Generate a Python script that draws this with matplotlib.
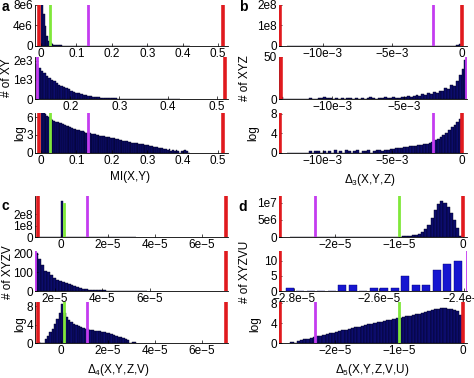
import numpy as np
import matplotlib.pyplot as plt

plt.rcParams['font.family'] = ['Liberation Sans', 'DejaVu Sans']
plt.rcParams['mathtext.fontset'] = 'custom'
plt.rcParams['mathtext.rm'] = 'Liberation Sans'
plt.rcParams['mathtext.it'] = 'Liberation Sans:italic'
plt.rcParams['axes.unicode_minus'] = True

NAVY = '#0c0c6c'
EDGE = '#00001c'
BLUE = '#1616d0'
RED = '#e01a1e'
PURPLE = '#c43cf0'
GREEN = '#80e83a'

# ---- panel a : MI(X,Y) ----
a_start, a_w = 0.0, 0.005
a_log = [7.0, 6.8, 6.6, 6.3, 6.0, 5.8, 5.6, 5.45, 5.3, 5.2, 5.1, 5.0, 4.85, 4.75,
         4.6, 4.5, 4.35, 4.2, 4.1, 4.0, 3.9, 3.8, 3.7, 3.6, 3.5, 3.4, 3.35, 3.3,
         3.2, 3.15, 3.1, 3.0, 2.95, 2.9, 2.85, 2.8, 2.7, 2.65, 2.6, 2.55, 2.45,
         2.4, 2.35, 2.25, 2.2, 2.1, 2.05, 2.0, 1.9, 1.85, 1.8, 1.7, 1.65, 1.6,
         1.55, 1.5, 1.45, 1.4, 1.3, 1.25, 1.2, 1.1, 1.05, 1.0, 0.95, 0.9, 0.8,
         0.75, 0.7, 0.6, 0.65, 0.5, 0.55, 0.3, 0.45, 0.3, 0.45, 0.3, 0.0, 0.3, 0.3,
         0.45, 0.3, 0.0]
a_mid_start, a_mid_w = 0.13, 0.005
a_mid = [1850, 1650, 1480, 1350, 1230, 1120, 1020, 930, 840, 760, 690, 620, 560,
         500, 440, 390, 340, 300, 260, 225, 195, 170, 145, 125, 105, 90, 78, 66,
         56, 48, 40, 34, 29, 24, 20, 17, 14, 12, 10, 8, 7, 6, 5, 3, 4, 3, 2, 3, 2,
         2, 1, 2, 1, 1, 0, 2, 1, 0, 1]
a_red = [-0.005, 0.515]
a_green = 0.025
a_purple = 0.133

# ---- panel b : Delta3 ----
b_start, b_w = -0.0126, 0.0002
b_log = [0, 0, 0, 0, 0, 0, 0, 0, 0.3, 0, 0.3, 0.3, 0, 0.3, 0, 0.3, 0, 0.48, 0,
         0.3, 0, 0.48, 0.3, 0, 0.3, 0.48, 0, 0.3, 0.3, 0.48, 0, 0.3, 0.6, 0.48,
         0.3, 0.6, 0.48, 0.7, 0.78, 0.85, 0.95, 1.0, 1.1, 1.2, 1.25, 1.3, 1.4,
         1.5, 1.6, 1.7, 1.8, 2.0, 2.2, 2.5, 2.8, 3.2, 3.6, 4.1, 4.6, 5.2, 5.8,
         6.4, 6.9]
b_mid_start, b_mid_w = -0.0136, 0.0002
b_mid = [2, 0, 0, 0, 0, 0, 0, 0, 0, 0, 1, 0, 0, 1, 1, 2, 1, 1, 0, 1, 0, 1, 0, 1,
         1, 0, 1, 0, 1, 0, 1, 2, 1, 0, 1, 1, 2, 1, 1, 2, 1, 1, 2, 2, 3, 2, 3, 5,
         4, 6, 5, 7, 6, 8, 7, 10, 9, 13, 12, 17, 15, 22, 28, 36, 47]
b_red = [-0.01307, 0.0]
b_purple = -0.00207
b_mid_lines = [(-0.01355, RED), (-0.00068, PURPLE)]

# ---- panel c : Delta4 ----
c_start, c_w = -1.0e-5, 1.0e-6
c_log = [0.3, 0, 0, 0.9, 1.5, 2.3, 3.1, 4.1, 5.2, 6.6, 8.5, 6.5, 5.6, 5.0, 4.5,
         4.1, 3.8, 3.6, 3.4, 3.2, 3.1, 3.0, 2.9, 2.8, 2.7, 2.6, 2.5, 2.4, 2.3,
         2.2, 2.1, 1.95, 1.8, 1.6, 1.4, 1.2, 1.0, 0.8, 0.6, 0, 0.3, 0.3]
c_mid_start, c_mid_w = 1.15e-5, 1.25e-6
c_mid = [205, 175, 140, 110, 100, 85, 68, 58, 52, 47, 42, 37, 32, 27, 21, 17, 13,
         11, 8, 6, 5, 4, 3, 3, 2, 2, 2, 1, 1, 1, 0, 1, 1, 0, 1, 0, 0, 1]
c_red = [-9.8e-6, 7.0e-5]
c_green = 1.3e-6
c_purple = 1.12e-5
c_mid_lines = [(1.16e-5, PURPLE), (9.2e-5, RED)]

# ---- panel d : Delta5 ----
d_start, d_w = -2.7e-5, 5e-7
d_log = [0.3, 0, 0.48, 0.6, 0.85, 0.9, 1.05, 1.2, 1.4, 1.5, 1.65, 1.8, 1.95,
         2.1, 2.25, 2.4, 2.55, 2.7, 2.85, 3.0, 3.15, 3.3, 3.45, 3.6, 3.75, 3.9,
         4.05, 4.2, 4.35, 4.5, 4.62, 4.75, 4.88, 5.0, 5.12, 5.25, 5.38, 5.5,
         5.65, 5.8, 5.95, 6.15, 6.35, 6.55, 6.75, 6.9, 6.98, 7.02, 7.0, 6.95,
         6.85, 6.7, 6.4, 5.6]
d_mid_start, d_mid_w = -2.822e-5, 2.47e-7
d_mid = [1, 0, 0, 0, 0, 2, 2, 0, 1, 1, 1, 5, 2, 2, 7, 9, 10]
d_red = [-2.87e-5, 0.0]
d_green = -1.0e-5
d_purple = -2.32e-5
d_mid_lines = [(-2.832e-5, RED), (-2.394e-5, PURPLE)]

W, H = 474, 378
fig = plt.figure(figsize=(W / 100, H / 100), dpi=100)


def make_ax(l, t, r, b):
    ax = fig.add_axes([l / W, 1 - b / H, (r - l) / W, (b - t) / H])
    for s in ('top', 'right'):
        ax.spines[s].set_visible(False)
    ax.spines['left'].set_linewidth(0.6)
    ax.spines['bottom'].set_linewidth(0.6)
    ax.tick_params(direction='in', length=2, width=0.5, labelsize=8.5, pad=1.5)
    ax.set_facecolor('none')
    return ax


def hist(ax, start, w, vals, color=NAVY, edge=EDGE, fill=1.0):
    vals = np.asarray(vals, dtype=float)
    x = start + w * (np.arange(len(vals)) + 0.5)
    ax.bar(x, vals, width=w * fill, color=color, edgecolor=edge, linewidth=0.3)


def lines(ax, items, lw=2.0):
    for x, c in items:
        ax.axvline(x, color=c, lw=2.6 if c == RED else lw, zorder=5)


def ticks(ax, xt, xl, yt, yl):
    ax.set_xticks(xt, xl)
    ax.set_yticks(yt, yl)


cols = {'L': (35, 228), 'R': (279, 467)}
rows_top = [(5, 46), (57, 99), (112.5, 152.5)]
rows_bot = [(196, 237), (251, 291), (302, 343)]

# ---------- a ----------
l, r = cols['L']
ax = make_ax(l, rows_top[0][0], r, rows_top[0][1])
hist(ax, a_start, a_w, 10 ** np.asarray(a_log))
lines(ax, [(a_red[0], RED), (a_red[1], RED), (a_green, GREEN), (a_purple, PURPLE)])
ax.set_xlim(-0.017, 0.528); ax.set_ylim(0, 8e6)
ticks(ax, [0, 0.1, 0.2, 0.3, 0.4, 0.5], ['0', '0.1', '0.2', '0.3', '0.4', '0.5'],
      [0, 4e6, 8e6], ['0', '4e6', '8e6'])

ax = make_ax(l, rows_top[1][0], r, rows_top[1][1])
hist(ax, a_mid_start, a_mid_w, a_mid)
lines(ax, [(a_purple, PURPLE), (a_red[1], RED)])
ax.set_xlim(0.128, 0.522); ax.set_ylim(0, 2210)
ticks(ax, [0.2, 0.3, 0.4, 0.5], ['0.2', '0.3', '0.4', '0.5'],
      [0, 1e3, 2e3], ['0', '1e3', '2e3'])

ax = make_ax(l, rows_top[2][0], r, rows_top[2][1])
hist(ax, a_start, a_w, a_log)
lines(ax, [(a_red[0], RED), (a_red[1], RED), (a_green, GREEN), (a_purple, PURPLE)])
ax.set_xlim(-0.017, 0.528); ax.set_ylim(0, 6.85)
ticks(ax, [0, 0.1, 0.2, 0.3, 0.4, 0.5], ['0', '0.1', '0.2', '0.3', '0.4', '0.5'],
      [0, 3, 6], ['0', '3', '6'])

# ---------- b ----------
l, r = cols['R']
bx = [-10e-3, -5e-3, 0]
bxl = ['\u221210e\u22123', '\u22125e\u22123', '0']
ax = make_ax(l, rows_top[0][0], r, rows_top[0][1])
hist(ax, b_start, b_w, 10 ** np.asarray(b_log))
lines(ax, [(b_red[0], RED), (b_red[1], RED), (b_purple, PURPLE)])
ax.set_xlim(-0.01314, 0.00036); ax.set_ylim(0, 2e8)
ticks(ax, bx, bxl, [0, 1e8, 2e8], ['0', '1e8', '2e8'])

ax = make_ax(l, rows_top[1][0], r, rows_top[1][1])
hist(ax, b_mid_start, b_mid_w, b_mid)
lines(ax, b_mid_lines)
ax.set_xlim(-0.01368, -0.000625); ax.set_ylim(0, 50)
ticks(ax, bx[:2], bxl[:2], [0, 50], ['0', '50'])

ax = make_ax(l, rows_top[2][0], r, rows_top[2][1])
hist(ax, b_start, b_w, b_log)
lines(ax, [(b_red[0], RED), (b_red[1], RED), (b_purple, PURPLE)])
ax.set_xlim(-0.01314, 0.00036); ax.set_ylim(0, 8.3)
ticks(ax, bx, bxl, [0, 4, 8], ['0', '4', '8'])

# ---------- c ----------
l, r = cols['L']
cx = [0, 2e-5, 4e-5, 6e-5]
cxl = ['0', '2e\u22125', '4e\u22125', '6e\u22125']
ax = make_ax(l, rows_bot[0][0], r, rows_bot[0][1])
hist(ax, c_start, c_w, 10 ** np.asarray(c_log))
lines(ax, [(c_red[0], RED), (c_red[1], RED), (c_purple, PURPLE)])
ax.axvline(c_green, ymax=0.8, color=GREEN, lw=2.0, zorder=5)
ax.set_xlim(-1.11e-5, 7.1e-5); ax.set_ylim(0, 3.57e8)
ticks(ax, cx, cxl, [0, 1e8, 2e8], ['0', '1e8', '2e8'])

ax = make_ax(l, rows_bot[1][0], r, rows_bot[1][1])
hist(ax, c_mid_start, c_mid_w, c_mid)
lines(ax, c_mid_lines)
ax.set_xlim(1.15e-5, 9.3e-5); ax.set_ylim(0, 216)
ticks(ax, cx[1:], cxl[1:], [0, 100, 200], ['0', '100', '200'])

ax = make_ax(l, rows_bot[2][0], r, rows_bot[2][1])
hist(ax, c_start, c_w, c_log)
lines(ax, [(c_red[0], RED), (c_red[1], RED), (c_green, GREEN), (c_purple, PURPLE)])
ax.set_xlim(-1.11e-5, 7.1e-5); ax.set_ylim(0, 8.9)
ticks(ax, cx, cxl, [0, 4, 8], ['0', '4', '8'])

# ---------- d ----------
l, r = cols['R']
dx = [-2e-5, -1e-5, 0]
dxl = ['\u22122e\u22125', '\u22121e\u22125', '0']
ax = make_ax(l, rows_bot[0][0], r, rows_bot[0][1])
hist(ax, d_start, d_w, 10 ** np.asarray(d_log))
lines(ax, [(d_red[0], RED), (d_red[1], RED), (d_green, GREEN), (d_purple, PURPLE)])
ax.set_xlim(-2.88e-5, 0.07e-5); ax.set_ylim(0, 1.2e7)
ticks(ax, dx, dxl, [0, 5e6, 1e7], ['0', '5e6', '1e7'])

ax = make_ax(l, rows_bot[1][0], r, rows_bot[1][1])
hist(ax, d_mid_start, d_mid_w, d_mid, color=BLUE, edge='#000070', fill=0.78)
lines(ax, d_mid_lines)
ax.set_xlim(-2.835e-5, -2.393e-5); ax.set_ylim(0, 13.3)
ticks(ax, [-2.8e-5, -2.6e-5, -2.4e-5],
      ['\u22122.8e\u22125', '\u22122.6e\u22125', '\u22122.4e\u22125'],
      [0, 5, 10], ['0', '5', '10'])

ax = make_ax(l, rows_bot[2][0], r, rows_bot[2][1])
hist(ax, d_start, d_w, d_log)
lines(ax, [(d_red[0], RED), (d_red[1], RED), (d_green, GREEN), (d_purple, PURPLE)])
ax.set_xlim(-2.88e-5, 0.07e-5); ax.set_ylim(0, 8.3)
ticks(ax, dx, dxl, [0, 4, 8], ['0', '4', '8'])

# ---------- labels ----------
def ftext(x, y, s, **kw):
    fig.text(x / W, 1 - y / H, s, ha='center', va='center', **kw)


for x, y, s in [(5, 7, 'a'), (243, 7, 'b'), (5, 206, 'c'), (243, 207, 'd')]:
    ftext(x, y, s, fontsize=10, fontweight='bold')
for x, y, s in [(7, 78, '# of XY'), (245, 78, '# of XYZ'),
                (8, 272, '# of XYZV'), (245, 272, '# of XYZVU')]:
    ftext(x, y, s, fontsize=8.5, rotation=90)
for x, y in [(20, 133), (253, 133), (20, 324), (255, 324)]:
    ftext(x, y, 'log', fontsize=8.5, rotation=90)
ftext(130, 177, 'MI(X,Y)', fontsize=8.5)
ftext(370, 180, '\u0394$_3$(X,Y,Z)', fontsize=8.5)
ftext(118, 370, '\u0394$_4$(X,Y,Z,V)', fontsize=8.5)
ftext(372, 370, '\u0394$_5$(X,Y,Z,V,U)', fontsize=8.5)

fig.savefig('out.png', dpi=100)
